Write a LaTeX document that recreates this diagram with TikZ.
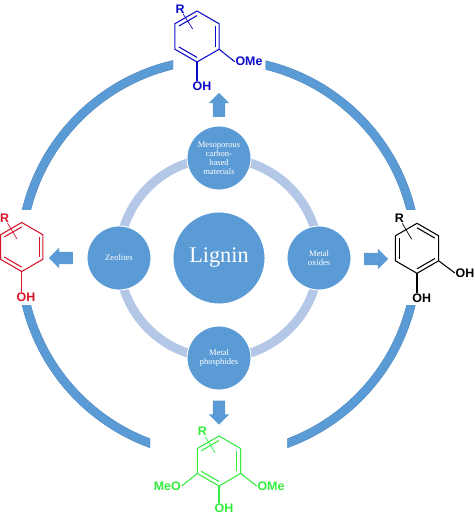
\documentclass[tikz,border=0pt]{standalone}
\usepackage{fontspec}
\setmainfont{Liberation Serif}
\setsansfont{Liberation Sans}
\usetikzlibrary{positioning,calc,shapes.arrows}
\definecolor{myblue}{RGB}{91,155,213}
\definecolor{mypale}{RGB}{180,199,231}
\definecolor{myedge}{RGB}{80,132,185}
\definecolor{chemblue}{RGB}{10,10,200}
\definecolor{chemred}{RGB}{215,20,40}
\definecolor{chemgreen}{RGB}{50,235,60}
\tikzset{
    core/.style={
        circle,
        draw=white,
        fill=myblue,
        line width=0.8pt,
        minimum size=2.76cm,
        inner sep=0pt,
        text=white,
        font=\fontsize{19}{21}\selectfont
    },
    catalyst/.style={
        circle,
        draw=white,
        fill=myblue,
        line width=0.8pt,
        minimum size=1.92cm,
        inner sep=0pt,
        align=center,
        text=white,
        font=\fontsize{7.3}{7.6}\selectfont
    },
    blockarr/.style={
        single arrow,
        fill=myblue,
        draw=none,
        minimum height=0.72cm,
        minimum width=0.6cm,
        inner sep=0.18cm,
        single arrow head extend=0.12cm
    },
    chem/.style={
        inner sep=0.5pt,
        font=\sffamily\bfseries\fontsize{10.6}{12}\selectfont
    },
    bond/.style={line width=0.9pt,line join=miter},
    thinbond/.style={line width=0.6pt}
}
% inner line of a double bond: ring centre, then the two atoms
\newcommand{\dblbond}[3]{\draw[bond] ($(#1)!0.82!(#2)$) -- ($(#1)!0.82!(#3)$);}

\begin{document}
\begin{tikzpicture}[x=0.03cm,y=-0.03cm]
\useasboundingbox (0,0) rectangle (474,515);

% Outer arcs
\coordinate (outerc) at (218.7,257.5);
\foreach \xa/\ya/\xb/\yb in {0/0/173/210,265.7/0/474/210,0/305/150/515,287.3/305/474/515}{
    \begin{scope}
        \clip (\xa,\ya) rectangle (\xb,\yb);
        \draw[myedge,line width=0.27cm] (outerc) circle[radius=5.94cm];
        \draw[myblue,line width=0.245cm] (outerc) circle[radius=5.94cm];
    \end{scope}
}

% Inner ring and circles
\coordinate (ringc) at (219,258);
\draw[mypale,line width=0.27cm] (ringc) circle[radius=3cm];
\node[core] (lignin) at (219,258) {Lignin};
\node[catalyst] (meso) at (219,158) {Mesoporous\\carbon-\\based\\materials};
\node[catalyst] (zeo) at (119,258) {Zeolites};
\node[catalyst] (oxide) at (319,258) {Metal\\oxides};
\node[catalyst] (phos) at (219,358) {Metal\\phosphides};

% Block arrows
\node[blockarr,shape border rotate=90] (arrtop) at (219,108) {};
\node[blockarr,shape border rotate=180] (arrleft) at (64,258) {};
\node[blockarr] (arrright) at (373,259) {};
\node[blockarr,shape border rotate=270] (arrbot) at (219,409.5) {};

% Ring atoms
\foreach \mol/\cx/\cy/\rr in {blue/197/36.5/25.5,red/21.7/247/24.5,black/417/248.3/25,green/219/461/25}{
    \coordinate (\mol c) at (\cx,\cy);
    \foreach \ang/\atom in {-90/1,-30/2,30/3,90/4,150/5,210/6}
        \coordinate (\mol\atom) at ($(\mol c)+(\ang:\rr)$);
}

% Blue guaiacol
\begin{scope}[chemblue]
\draw[bond] (blue1) -- (blue2) -- (blue3) -- (blue4) -- (blue5) -- (blue6) -- cycle;
\dblbond{bluec}{blue2}{blue3}
\dblbond{bluec}{blue4}{blue5}
\dblbond{bluec}{blue6}{blue1}
\node[chem,text=chemblue] (bluer) at (180,9) {R};
\node[chem,text=chemblue] (blueome) at (249,61.7) {OMe};
\node[chem,text=chemblue] (blueoh) at (202,86) {OH};
\coordinate (bluerend) at (192.7,29);
\draw[thinbond] (bluer) -- (bluerend);
\draw[bond] (blue3) -- (blueome.west);
\draw[bond] (blue4) -- (blue4 |- blueoh.north);
\end{scope}

% Red phenol
\begin{scope}[chemred]
\draw[bond] (red1) -- (red2) -- (red3) -- (red4) -- (red5) -- (red6) -- cycle;
\dblbond{redc}{red2}{red3}
\dblbond{redc}{red4}{red5}
\dblbond{redc}{red6}{red1}
\node[chem,text=chemred] (redr) at (4.5,218) {R};
\node[chem,text=chemred] (redoh) at (26,297) {OH};
\coordinate (redrend) at (17,239);
\draw[thinbond] (redr) -- (redrend);
\draw[bond] (red4) -- (red4 |- redoh.north);
\end{scope}

% Black catechol
\begin{scope}[black]
\draw[bond] (black1) -- (black2) -- (black3) -- (black4) -- (black5) -- (black6) -- cycle;
\dblbond{blackc}{black1}{black2}
\dblbond{blackc}{black3}{black4}
\dblbond{blackc}{black5}{black6}
\node[chem] (blackr) at (399.3,218.3) {R};
\node[chem] (blackoh) at (465,273) {OH};
\node[chem] (blackohb) at (421.7,298) {OH};
\coordinate (blackrend) at (411.7,239.3);
\draw[thinbond] (blackr) -- (blackrend);
\draw[bond] (black3) -- (blackoh.west);
\draw[bond] (black4) -- (black4 |- blackohb.north);
\end{scope}

% Green syringol
\begin{scope}[chemgreen]
\draw[bond] (green1) -- (green2) -- (green3) -- (green4) -- (green5) -- (green6) -- cycle;
\dblbond{greenc}{green2}{green3}
\dblbond{greenc}{green4}{green5}
\dblbond{greenc}{green6}{green1}
\node[chem,text=chemgreen] (greenr) at (202.3,431.7) {R};
\node[chem,text=chemgreen] (greenmeo) at (167.3,486) {MeO};
\node[chem,text=chemgreen] (greenome) at (271,486) {OMe};
\node[chem,text=chemgreen] (greenoh) at (224,508.5) {OH};
\coordinate (greenrend) at (215,452.7);
\draw[thinbond] (greenr) -- (greenrend);
\draw[bond] (green5) -- (greenmeo.east);
\draw[bond] (green3) -- (greenome.west);
\draw[bond] (green4) -- (green4 |- greenoh.north);
\end{scope}

\end{tikzpicture}
\end{document}
